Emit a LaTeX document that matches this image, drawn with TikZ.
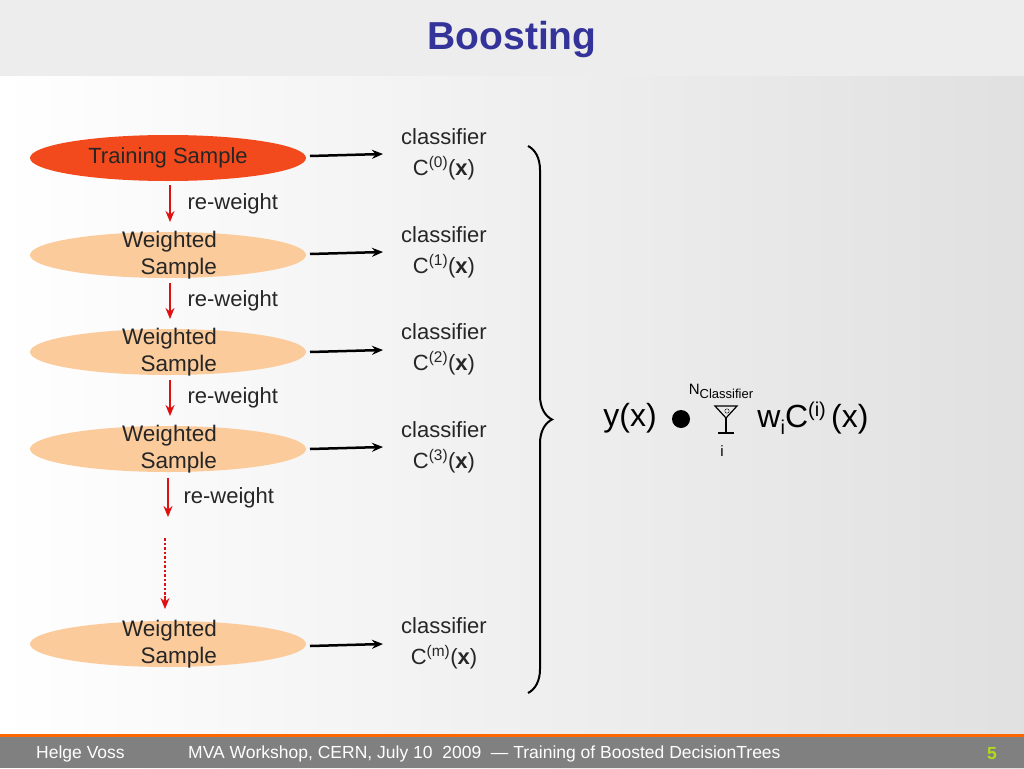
\documentclass[tikz,border=0pt]{standalone}
\usepackage{fontspec}
\setmainfont{Liberation Sans}
\usetikzlibrary{decorations.pathreplacing,arrows.meta,shapes.geometric}
\definecolor{titleblue}{HTML}{333399}
\definecolor{redsample}{HTML}{F24A1C}
\definecolor{peach}{HTML}{FCCB9C}
\definecolor{arrred}{HTML}{E01010}
\newcommand{\cls}[1]{classifier\\C\textsuperscript{(#1)}(\textbf{x})}
\begin{document}
\begin{tikzpicture}[x=1pt,y=-1pt,
  samp/.style={ellipse,minimum width=276pt,minimum height=46pt,inner sep=0pt},
  wtxt/.style={font=\fontsize{22.5}{27}\selectfont,align=right,text=black!85,inner sep=0pt},
  ctxt/.style={font=\fontsize{22}{31}\selectfont,align=center,text=black!85},
  blk/.style={-{Stealth[length=11pt,width=9pt]},line width=2.5pt},
  rdarr/.style={-{Stealth[length=11pt,width=9pt]},line width=2.5pt,arrred},
  rw/.style={font=\fontsize{22}{24}\selectfont,anchor=west,text=black!85}]
\useasboundingbox (0,0) rectangle (1024,768);
\shade[left color=white,right color=black!12] (0,0) rectangle (1024,768);
\fill[black!7] (0,0) rectangle (1024,76);
\node at (512,40) {\fontsize{39}{42}\selectfont\bfseries\color{titleblue}Boosting};
\fill[black!50] (0,737) rectangle (1024,768);
\fill[orange!80!red] (0,734) rectangle (1024,737);
\node[anchor=west,white,font=\fontsize{17.5}{18}\selectfont,inner sep=0pt] (f1) at (36,754) {Helge Voss};
\node[anchor=west,white,font=\fontsize{17.5}{18}\selectfont,inner sep=0pt] (f2) at (188,754) {MVA Workshop, CERN, July 10\ \ 2009\ \ --- Training of Boosted DecisionTrees};
\node[yellow!70!green,font=\fontsize{17.5}{18}\selectfont\bfseries] (f3) at (992,754) {5};
% samples
\node[samp,fill=redsample] (s0) at (168,158) {};
\node[font=\fontsize{22}{24}\selectfont,text=black!85] at (168,158) {Training Sample};
\foreach \n/\y in {1/255,2/352,3/449,4/644}{
  \node[samp,fill=peach] (s\n) at (168,\y) {};
  \node[wtxt,anchor=east] at (217,\y) {Weighted\\Sample};
}
% classifiers
\node[ctxt] (c0) at (444,154) {\cls{0}};
\node[ctxt] (c1) at (444,252) {\cls{1}};
\node[ctxt] (c2) at (444,349) {\cls{2}};
\node[ctxt] (c3) at (444,447) {\cls{3}};
\node[ctxt] (c4) at (444,643) {\cls{m}};
\foreach \i/\y in {0/155,1/253,2/351,3/448,4/645}{
  \draw[blk] (310,\y+1) -- (383,\y-1);
}
% reweight arrows
\draw[rdarr] (170,185) -- (170,222);
\draw[rdarr] (170,283) -- (170,319);
\draw[rdarr] (170,380) -- (170,416);
\draw[rdarr] (168,478) -- (168,517);
\node[rw] at (184,204) {re-weight};
\node[rw] at (184,301) {re-weight};
\node[rw] at (184,398) {re-weight};
\node[rw] at (180,498) {re-weight};
\draw[arrred,line width=2.5pt,dotted] (165,538) -- (165,598);
\draw[rdarr] (165,596) -- (165,609);
% brace
\draw[line width=2pt,decorate,decoration={brace,amplitude=24pt}] (528,146) -- (528,693);
% formula
\node[font=\fontsize{32}{36}\selectfont] (y) at (630,418) {y(x)};
\fill (681,419) circle (9pt);
\node[font=\fontsize{15}{16}\selectfont] (N) at (721,391) {N\raisebox{-4pt}{\fontsize{13}{14}\selectfont Classifier}};
\draw[line width=1.2pt] (715,406) -- (737,406) -- (726,418) -- cycle;
\draw[line width=1.8pt] (726,418) -- (726,433) (718,433) -- (734,433);
\draw (727,411) circle (2.2pt);
\node[font=\fontsize{15}{16}\selectfont] (i) at (722,451) {i};
\node[font=\fontsize{32}{36}\selectfont] (w) at (813,418) {w\raisebox{-7pt}{\fontsize{20}{22}\selectfont i}C\raisebox{11pt}{\fontsize{20}{22}\selectfont (i)}\,(x)};
\end{tikzpicture}
\end{document}
